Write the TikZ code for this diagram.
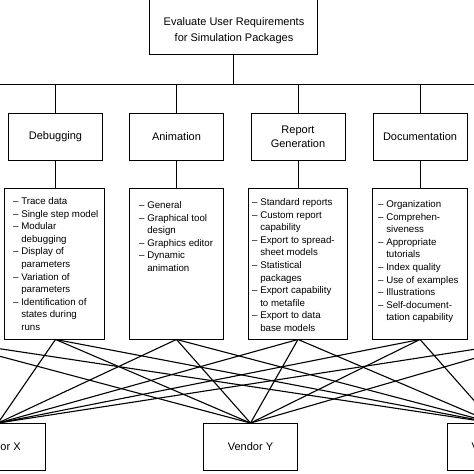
\documentclass[tikz,border=0pt]{standalone}
\usepackage{fontspec}
\setmainfont{Liberation Sans}
\begin{document}
\begin{tikzpicture}[x=1pt,y=-1pt,
  box/.style={draw,line width=0.9pt,inner sep=0pt},
  cat/.style={box,minimum width=94pt,minimum height=47pt,align=center,font=\fontsize{11}{14}\selectfont},
  det/.style={box,minimum height=151pt},
  dtext/.style={anchor=north west,inner sep=0pt,align=left,font=\fontsize{9.7}{12.6}\selectfont},
  wire/.style={line width=0.9pt},
  fan/.style={line width=1.1pt}]
\useasboundingbox (0,0) rectangle (474,474);
\fill[white] (0,0) rectangle (474,474);
\clip (0,0) rectangle (474,474);
\newcommand{\ind}{\hphantom{– }}
% top
\node[box,minimum width=168pt,minimum height=64pt] (top) at (233,22) {};
\node[align=center,inner sep=0pt,font=\fontsize{11}{15.7}\selectfont] (toptext) at (234,31) {Evaluate User Requirements\\for Simulation Packages};
% bus
\coordinate (busL) at (-5,84);
\coordinate (busR) at (480,84);
\coordinate (busT) at (233,84);
\draw[wire] (busL) -- (busR);
\draw[wire] (top.south) -- (busT);
% categories
\node[cat] (dbg) at (55.5,136.5) {Debugging};
\node[cat] (ani) at (176.5,136.5) {Animation};
\node[cat] (rep) at (298,136.5) {Report\\Generation};
\node[cat] (doc) at (420,136.5) {Documentation};
\foreach \n in {dbg,ani,rep,doc}{\draw[wire] (\n.north) -- (\n.north |- busT);}
% detail boxes
\node[det,minimum width=100pt] (dbgd) at (54,263.5) {};
\node[det,minimum width=94pt] (anid) at (176,263.5) {};
\node[det,minimum width=99pt] (repd) at (297.5,263.5) {};
\node[det,minimum width=95pt] (docd) at (419.5,263.5) {};
\draw[wire] (dbg.south) -- (dbg.south |- dbgd.north);
\draw[wire] (ani.south) -- (ani.south |- anid.north);
\draw[wire] (rep.south) -- (rep.south |- repd.north);
\draw[wire] (doc.south) -- (doc.south |- docd.north);
% detail texts
\node[dtext] (dbgt) at (13,197.3) {– Trace data\\– Single step model\\– Modular\\\ind debugging\\– Display of\\\ind parameters\\– Variation of\\\ind parameters\\– Identification of\\\ind states during\\\ind runs};
\node[dtext] (anit) at (139,201.3) {– General\\– Graphical tool\\\ind design\\– Graphics editor\\– Dynamic\\\ind animation};
\node[dtext] (rept) at (252,198.3) {– Standard reports\\– Custom report\\\ind capability\\– Export to spread-\\\ind sheet models\\– Statistical\\\ind packages\\– Export capability\\\ind to metafile\\– Export to data\\\ind base models};
\node[dtext] (doct) at (378,200.3) {– Organization\\– Comprehen-\\\ind siveness\\– Appropriate\\\ind tutorials\\– Index quality\\– Use of examples\\– Illustrations\\– Self-document-\\\ind tation capability};
% vendors
\node[cat] (vx) at (-2,447) {Vendor X};
\node[cat] (vy) at (250.5,447) {Vendor Y};
\node[cat] (vz) at (494,447) {Vendor Z};
% fan start points
\coordinate (s1) at (dbgd.south -| dbg.south);
\coordinate (s2) at (anid.south -| ani.south);
\coordinate (s3) at (repd.south -| rep.south);
\coordinate (s4) at (docd.south -| doc.south);
\coordinate (s0) at (-65,339);
\coordinate (s5) at (541,339);
\foreach \s in {s0,s1,s2,s3,s4,s5}{
  \foreach \v in {vx,vy,vz}{\draw[fan] (\s) -- (\v.north);}
}
\end{tikzpicture}
\end{document}
